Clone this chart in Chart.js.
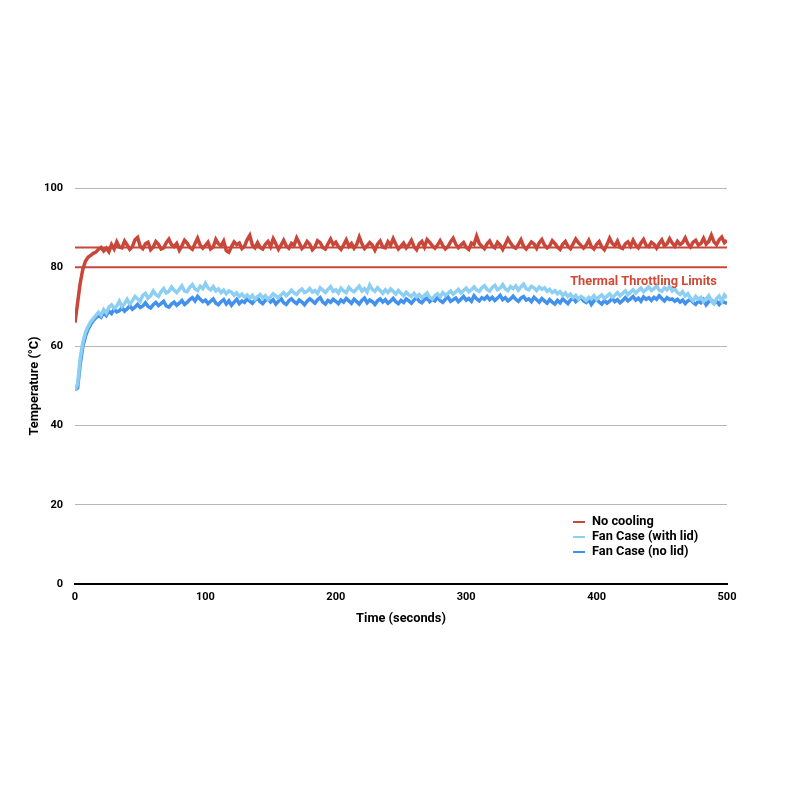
<!DOCTYPE html>
<html>
<head>
<meta charset="utf-8">
<script src="https://cdn.jsdelivr.net/npm/chart.js@4"></script>
<style>
  html, body { margin: 0; padding: 0; background: #fff; }
  #wrap { width: 800px; height: 800px; }
</style>
</head>
<body>
<div id="wrap"><canvas id="temp-chart" width="800" height="800"></canvas></div>
<script>
// Sample times (seconds), every 2 s
const times = [];
for (let t = 0; t <= 500; t += 2) times.push(t);

// Temperatures (°C), one value per sample time
const noCooling = [
  66, 71, 76, 79.5, 81.5, 82.5, 83, 83.5, 83.8, 84.5,
  85.0, 84.1, 84.8, 83.9, 85.7, 84.6, 86.4, 85.1, 84.9, 86.6,
  85.6, 84.5, 85.2, 86.9, 87.5, 85.3, 84.7, 85.9, 86.3, 84.4,
  85.1, 86.5, 85.8, 84.6, 84.9, 86.2, 87.1, 85.7, 85.2, 86.0,
  84.3, 85.4, 86.8, 86.1, 85.0, 84.5, 85.9, 87.3, 85.6, 84.8,
  85.5, 86.3, 84.6, 85.1, 87.0, 85.9, 85.4, 86.6, 84.2, 83.8,
  85.2, 86.4, 85.7, 86.1, 84.7, 85.3, 86.9, 88.0, 85.6, 84.9,
  86.2, 85.0, 84.6, 85.8, 86.5, 85.2, 87.2, 85.9, 84.5, 85.6,
  86.8, 85.4, 84.8, 86.0, 85.5, 87.4, 86.1, 84.7, 85.3, 86.5,
  85.8, 84.4, 85.1, 86.7, 86.2, 85.0, 84.6, 85.9, 87.1, 85.7,
  86.3, 85.2, 84.5, 85.6, 86.9, 85.3, 86.0, 84.8, 85.7, 87.6,
  85.9, 84.7, 85.4, 86.2, 85.6, 84.3, 85.8, 86.6, 85.1, 84.9,
  86.4, 85.5, 87.2, 85.8, 84.6, 85.3, 86.1, 84.9, 85.7, 86.8,
  85.2, 84.4, 85.9, 86.5, 85.1, 87.0, 86.3, 85.4, 84.8, 85.6,
  86.7, 85.5, 84.6, 85.2, 86.4, 87.3, 85.8, 84.9, 85.6, 86.2,
  85.0, 84.5, 86.1, 85.7, 87.8, 86.0, 85.3, 84.7, 85.9, 86.6,
  85.4, 84.9, 86.3, 85.6, 84.5, 85.8, 87.2, 86.1, 85.2, 84.8,
  85.7, 86.9, 85.3, 84.6, 85.5, 86.4, 85.9, 84.8, 86.2, 87.0,
  85.6, 84.9, 85.4, 86.7, 86.0, 85.1, 84.5, 85.8, 86.5, 85.3,
  84.7, 85.9, 87.1, 86.2, 85.5, 84.8, 85.6, 86.8, 85.2, 84.6,
  85.8, 86.5, 85.1, 84.4, 85.7, 87.3, 86.0, 85.4, 86.6, 85.0,
  84.7, 85.9, 86.4, 85.3, 86.8, 85.6, 84.9, 86.1, 87.0, 85.5,
  85.2, 86.3, 85.8, 84.8, 86.0, 86.9, 85.4, 85.9, 87.2, 86.1,
  85.3, 86.5, 85.7, 86.2, 87.4, 85.9, 85.1, 86.3, 86.8, 85.6,
  86.0, 87.3, 85.8, 86.5, 88.1, 86.4, 85.7, 86.9, 87.6, 86.2,
  86.8
];

const fanWithLid = [
  49, 50.5, 57, 61, 63.5, 65, 66.2, 67, 67.8, 68.6,
  67.9, 69.3, 68.4, 69.9, 70.5, 69.6, 70.2, 71.4, 70.1, 70.8,
  71.9, 70.7, 71.5, 72.6, 72.0, 71.4, 72.9, 73.4, 72.2, 72.8,
  74.0, 73.1, 72.6, 73.8, 74.6, 73.5, 73.9, 75.0, 74.2, 73.6,
  74.4, 75.3, 74.0, 73.8, 74.9, 75.6, 74.5, 74.1, 75.2, 74.6,
  75.9, 74.8, 74.3, 75.1, 74.0, 74.5, 73.6, 74.2, 73.3, 74.0,
  73.7, 72.9, 73.5, 72.6, 73.2, 72.4, 73.0, 72.2, 72.9, 71.9,
  72.6, 73.1, 72.2, 72.8, 71.8, 72.5, 73.3, 72.7, 72.3, 73.0,
  73.6, 72.8, 73.4, 74.2, 73.5, 73.1, 74.0, 74.5, 73.6, 73.9,
  74.6, 73.7, 74.1, 73.4, 74.8, 74.2, 73.6, 74.4, 75.1, 73.9,
  74.3, 73.5, 74.7, 74.0, 73.6, 74.9, 74.2, 73.8, 74.5, 75.2,
  74.0, 74.6, 73.7, 75.5, 74.4, 73.9, 74.8, 74.1, 73.4, 74.3,
  73.6, 74.5, 73.9, 73.2, 74.1, 73.4, 72.8, 73.7, 73.0, 72.6,
  73.4, 72.5, 73.1, 72.3, 72.9, 73.5, 72.4, 72.0, 72.8, 73.3,
  72.5, 73.6, 72.9, 73.4, 74.0, 73.2, 73.8, 74.4, 73.5, 74.1,
  74.7, 73.8, 74.3, 75.0, 74.2, 73.9, 74.8, 75.3, 74.4, 74.0,
  74.9, 75.4, 74.3, 74.7, 75.6, 74.5, 74.1, 75.1, 74.6, 75.3,
  74.2, 75.0, 75.7, 74.6, 74.3, 75.2, 74.8, 74.1, 75.0, 74.4,
  74.8, 73.9, 74.4, 73.6, 74.1, 73.3, 73.8, 72.9, 73.5, 72.6,
  73.2, 72.3, 72.9, 71.9, 72.6, 72.2, 71.6, 72.4, 72.0, 72.8,
  71.8, 72.5, 73.0, 72.1, 72.7, 73.3, 72.4, 72.9, 73.6, 72.8,
  73.4, 74.0, 73.1, 73.7, 74.3, 73.5, 74.1, 74.7, 73.8, 74.4,
  75.0, 74.1, 74.6, 75.3, 74.2, 73.9, 74.8, 74.3, 75.1, 74.0,
  74.5, 73.6, 73.1, 73.8, 72.7, 73.3, 72.2, 71.5, 72.6, 71.9,
  72.4, 71.3, 72.0, 72.8, 71.5, 70.8, 72.1, 72.7, 71.4, 73.0,
  72.3
];

const fanNoLid = [
  49, 49.5, 55.5, 60, 62.5, 64.3, 65.5, 66.5, 67.2, 67.9,
  67.4, 68.5, 67.8, 68.9, 68.3, 69.4, 68.7, 69.0, 69.8, 68.9,
  69.5, 70.3, 69.4, 69.9, 70.6, 69.8, 70.2, 71.0, 70.1, 69.7,
  70.5, 71.1, 70.3, 70.8, 71.4, 70.2, 69.9, 70.7, 71.2, 70.4,
  70.9, 71.6, 70.6, 71.1, 71.8, 72.3, 71.5, 72.6, 71.9, 71.3,
  71.7, 70.8, 71.4, 72.0, 70.9, 70.5, 71.3, 71.8, 70.7, 71.5,
  70.4, 71.2, 71.9, 70.8, 71.5, 71.1, 72.1, 71.4, 70.9, 71.7,
  72.2, 71.3, 70.8, 71.6, 72.0, 71.2, 71.8, 70.7, 71.4, 72.1,
  71.0, 70.6, 71.5, 72.0, 71.3, 70.8, 71.7, 71.2, 70.5, 71.4,
  72.0, 71.5, 70.9, 71.8, 72.3, 71.2, 70.7, 71.6, 71.1, 71.9,
  71.4, 70.8, 71.7, 71.2, 72.1, 71.5, 70.9, 71.9, 71.3, 70.7,
  71.6, 72.2, 71.0, 71.7, 71.3, 70.6, 71.5, 72.0, 71.2, 71.8,
  70.9, 71.4, 72.1, 71.3, 70.8, 71.6, 71.1, 72.0, 71.5, 70.9,
  71.7, 72.3, 71.4, 71.0, 71.8, 72.2, 71.3, 71.9, 71.5, 72.4,
  71.6, 71.1, 71.9, 72.5, 71.4, 71.8, 72.2, 71.3, 71.9, 72.6,
  71.7, 72.1, 71.4, 72.8, 72.0, 71.5, 72.3, 71.9, 72.6, 71.8,
  72.4, 71.6, 72.2, 72.9, 71.8, 72.3, 71.5, 72.0, 72.7, 71.9,
  71.4, 72.2, 72.6, 71.7, 72.0, 71.3, 72.4, 71.8, 71.2, 72.1,
  71.5, 70.9, 71.8, 71.2, 70.7, 71.6, 71.0, 72.0, 71.4, 70.8,
  71.7, 72.2, 71.3, 71.9, 72.4, 71.5, 71.1, 71.8, 70.6, 71.5,
  72.0, 71.2, 70.7, 71.6, 70.9, 71.4, 72.1, 71.3, 71.8, 71.0,
  71.6, 72.3, 71.5, 72.0, 72.6, 71.7, 72.2, 71.4, 72.5, 71.9,
  72.3, 71.6, 72.4, 71.9, 72.8, 72.1, 71.5, 72.3, 71.8, 72.0,
  71.4, 71.9, 71.2, 71.7, 70.8, 71.5, 71.9, 71.1, 70.6, 71.4,
  71.0, 71.8, 70.5, 71.3, 71.7, 70.9, 71.4, 70.6, 71.5, 71.1,
  70.9
];

// Thermal throttling limits (°C)
const throttleLimits = [85, 80];
const xTicks = [0, 100, 200, 300, 400, 500];
const yTicks = [0, 20, 40, 60, 80, 100];

const seriesLabels = ['No cooling', 'Fan Case (with lid)', 'Fan Case (no lid)'];
const seriesColors = ['#c9473a', '#8dcff3', '#4291ee'];
const limitColor = '#c9473a';

const toPoints = vals => vals.map((v, i) => ({ x: times[i], y: v }));

const datasets = [noCooling, fanWithLid, fanNoLid].map((vals, i) => ({
  label: seriesLabels[i],
  data: toPoints(vals),
  borderColor: seriesColors[i],
  borderWidth: 3.5,
  pointRadius: 0,
  tension: 0,
  fill: false,
}));
throttleLimits.forEach(lim => {
  datasets.push({
    label: 'limit',
    data: [{ x: xTicks[0], y: lim }, { x: xTicks[xTicks.length - 1], y: lim }],
    borderColor: limitColor,
    borderWidth: 2,
    pointRadius: 0,
    fill: false,
    order: 5,
  });
});

// Label for the throttling lines and the legend box in the lower right
const extras = {
  id: 'extras',
  afterDraw(chart) {
    const { ctx, scales } = chart;
    ctx.save();
    ctx.font = 'bold 12.8px Roboto';
    ctx.fillStyle = '#d14836';
    ctx.textAlign = 'center';
    ctx.textBaseline = 'middle';
    ctx.fillText('Thermal Throttling Limits', scales.x.getPixelForValue(436), scales.y.getPixelForValue(76.3));

    ctx.font = 'bold 12.8px Roboto';
    ctx.textAlign = 'left';
    ctx.fillStyle = '#000';
    seriesLabels.forEach((lab, i) => {
      const y = 522 + i * 15;
      ctx.strokeStyle = seriesColors[i];
      ctx.lineWidth = 2;
      ctx.beginPath();
      ctx.moveTo(573, y);
      ctx.lineTo(585, y);
      ctx.stroke();
      ctx.fillText(lab, 592, y);
    });
    ctx.restore();
  }
};

const ctx = document.getElementById('temp-chart').getContext('2d');
new Chart(ctx, {
  type: 'line',
  data: { datasets },
  options: {
    responsive: false,
    animation: false,
    layout: { padding: { left: 23, top: 188, right: 73, bottom: 170 } },
    plugins: { legend: { display: false }, tooltip: { enabled: false } },
    scales: {
      x: {
        type: 'linear',
        min: 0,
        max: 500,
        afterBuildTicks: s => { s.ticks = xTicks.map(v => ({ value: v })); },
        afterFit: s => { s.height = 46; },
        grid: { display: false, drawTicks: false },
        border: { display: true, color: '#000', width: 2 },
        ticks: { color: '#000', padding: 7, font: { family: 'Roboto', weight: 'bold', size: 11 } },
        title: { display: true, text: 'Time (seconds)', color: '#000', padding: { top: 4 }, font: { family: 'Roboto', weight: 'bold', size: 12.8 } }
      },
      y: {
        min: 0,
        max: 100,
        afterBuildTicks: s => { s.ticks = yTicks.map(v => ({ value: v })); },
        afterFit: s => { s.width = 52; },
        grid: { color: '#b7b7b7', lineWidth: 1, drawTicks: false },
        border: { display: false },
        ticks: { color: '#000', padding: 12, font: { family: 'Roboto', weight: 'bold', size: 11 } },
        title: { display: true, text: 'Temperature (°C)', color: '#000', padding: { top: 4 }, font: { family: 'Roboto', weight: 'bold', size: 12.8 } }
      }
    }
  },
  plugins: [extras]
});
</script>
</body>
</html>
